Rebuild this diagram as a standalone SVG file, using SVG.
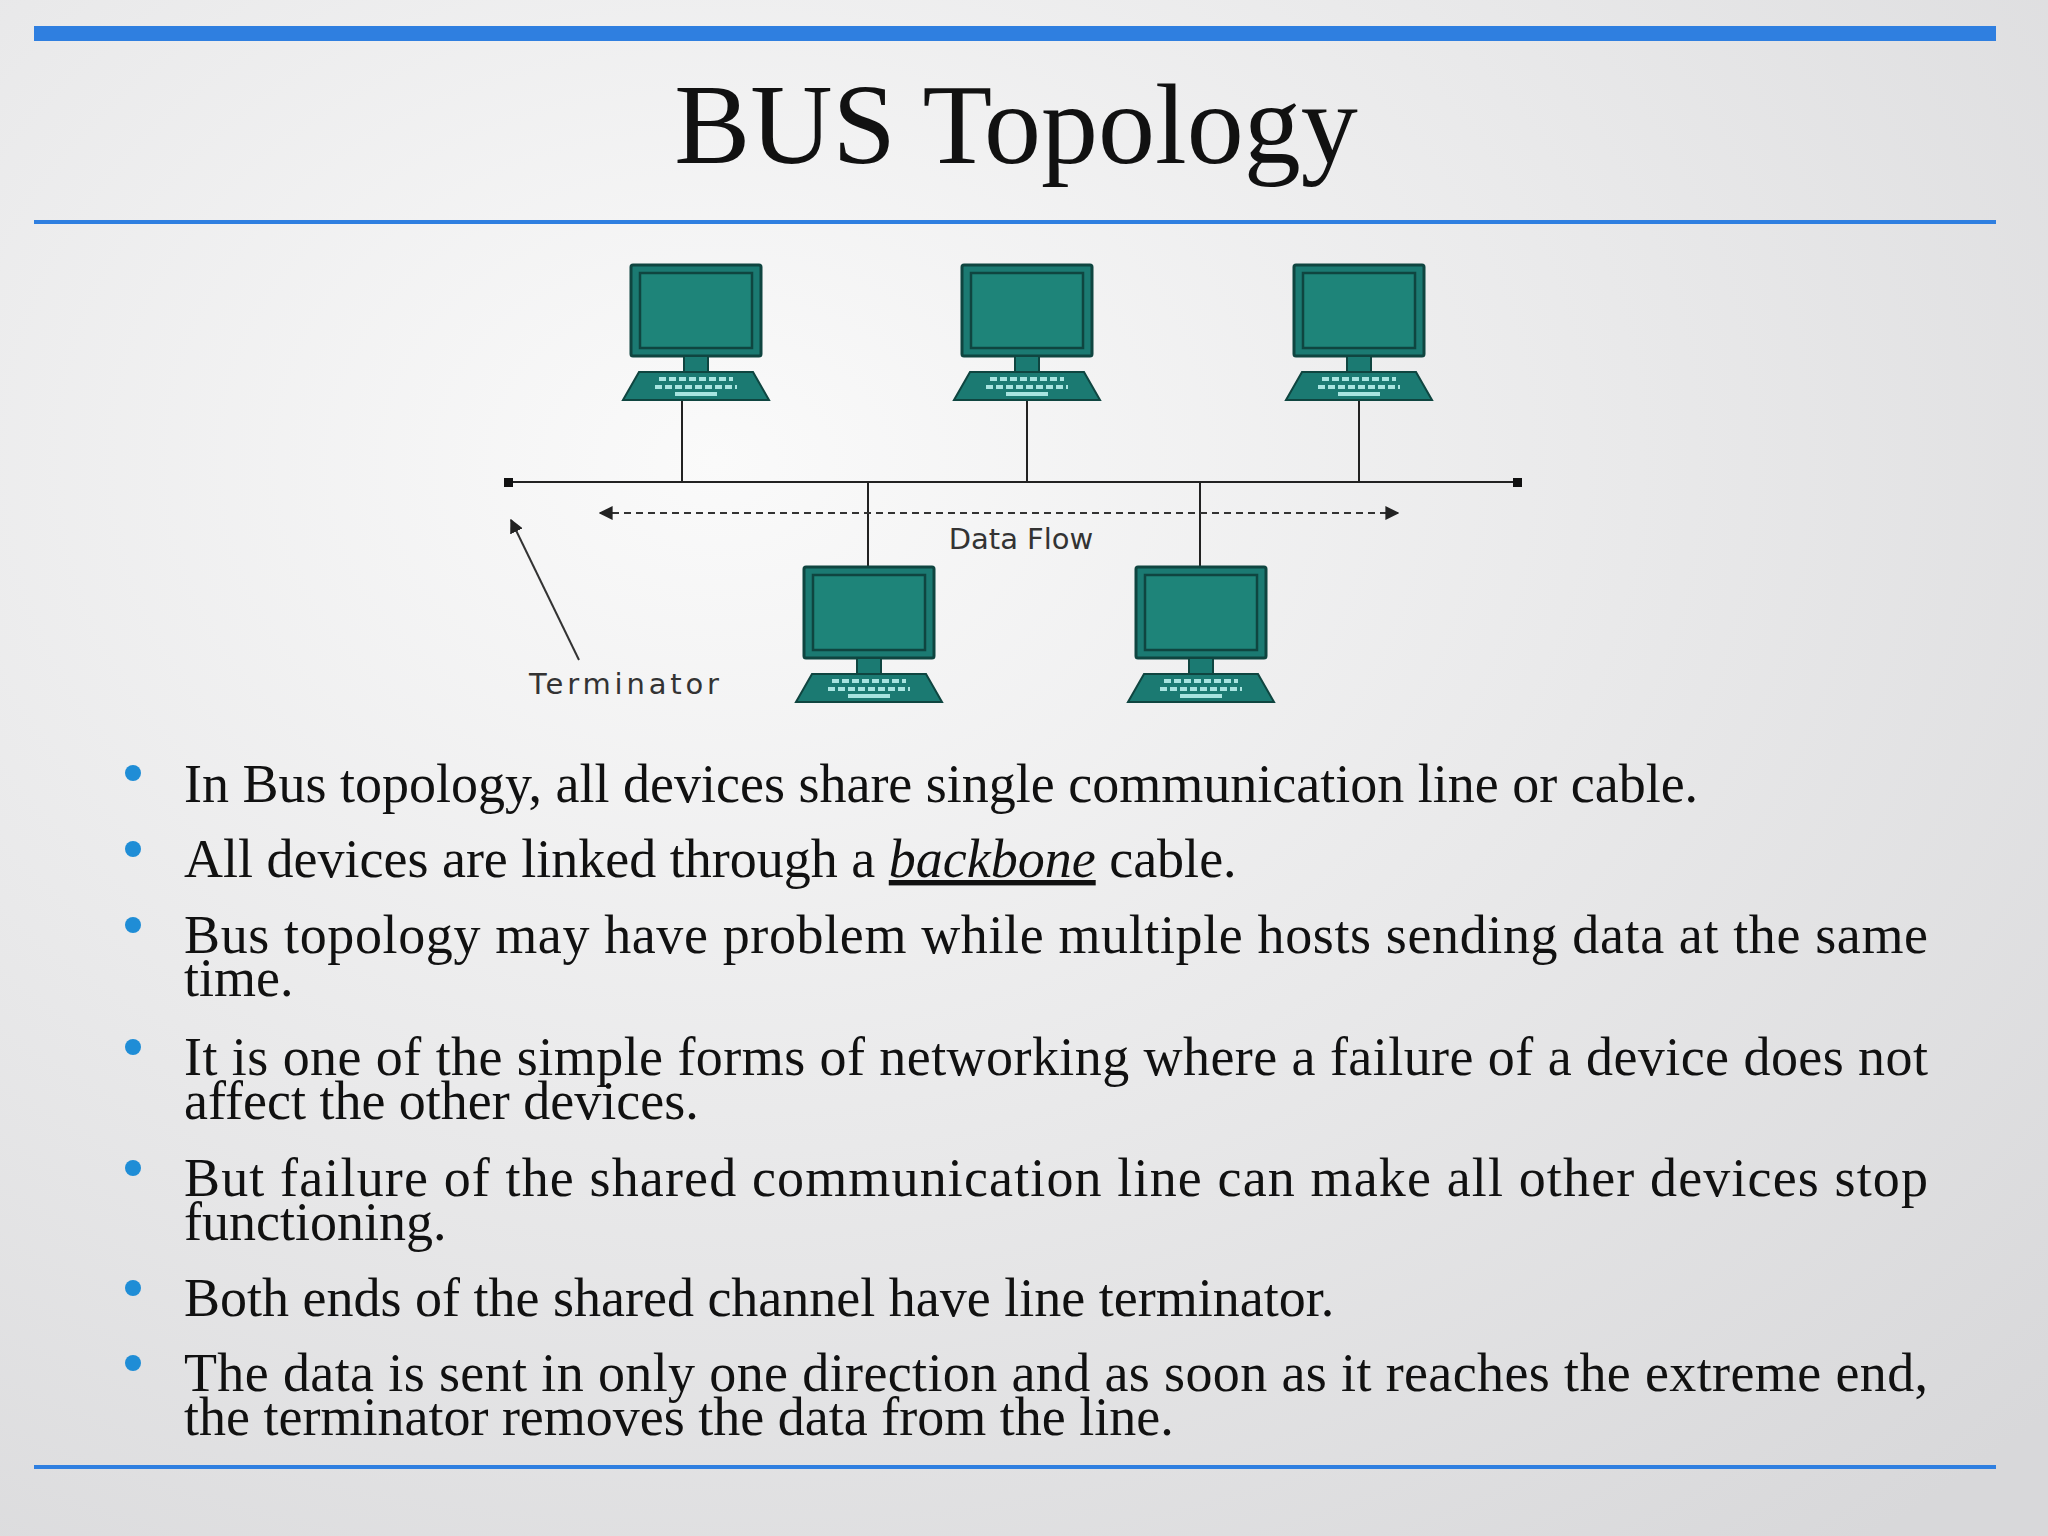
<svg xmlns="http://www.w3.org/2000/svg" width="2048" height="1536" viewBox="0 0 2048 1536">
<defs>
<radialGradient id="bg" cx="0.35" cy="0.3" r="0.9"><stop offset="0" stop-color="#fafafa"/><stop offset="1" stop-color="#d8d8da"/></radialGradient>
<g id="pc">
<rect x="0" y="0" width="130" height="91" rx="2" fill="#1b7a72" stroke="#0f4540" stroke-width="3"/>
<rect x="9" y="8" width="112" height="75" fill="#1e8479" stroke="#0f4540" stroke-width="2.5"/>
<rect x="53" y="91" width="24" height="16" fill="#1b7a72" stroke="#0f4540" stroke-width="2"/>
<polygon points="8,107 122,107 138,135 -8,135" fill="#1b7a72" stroke="#0f4540" stroke-width="2"/>
<g stroke="#a8e4e0" stroke-width="4" stroke-dasharray="7,3"><line x1="28" y1="114" x2="102" y2="114"/><line x1="24" y1="122" x2="106" y2="122"/></g>
<rect x="44" y="127" width="42" height="4" fill="#a8e4e0"/>
</g>
<marker id="ah" viewBox="0 0 10 10" refX="9" refY="5" markerWidth="7" markerHeight="7" orient="auto-start-reverse"><path d="M0,0 L10,5 L0,10 z" fill="#222"/></marker>
<style>
.c{stroke:#222;stroke-width:2;fill:none}
.t{font-family:"Liberation Serif",serif;font-size:54px;fill:#111}
.s{font-family:"DejaVu Sans",sans-serif;font-size:29px;fill:#333}
</style>
</defs>
<rect width="2048" height="1536" fill="url(#bg)"/>
<rect x="34" y="26" width="1962" height="15" fill="#2f7fe0"/>
<line x1="34" y1="222" x2="1996" y2="222" stroke="#2f7fe0" stroke-width="4"/>
<line x1="34" y1="1467" x2="1996" y2="1467" stroke="#2f7fe0" stroke-width="4"/>
<text x="1016" y="163" text-anchor="middle" font-family="Liberation Serif,serif" font-size="114" fill="#111">BUS Topology</text>
<g id="connectors">
<line class="c" x1="508" y1="482" x2="1518" y2="482"/>
<rect x="504" y="478" width="9" height="9" fill="#111"/>
<rect x="1513" y="478" width="9" height="9" fill="#111"/>
<line class="c" x1="682" y1="400" x2="682" y2="482"/>
<line class="c" x1="1027" y1="400" x2="1027" y2="482"/>
<line class="c" x1="1359" y1="400" x2="1359" y2="482"/>
<line class="c" x1="868" y1="482" x2="868" y2="567"/>
<line class="c" x1="1200" y1="482" x2="1200" y2="567"/>
<line x1="600" y1="513" x2="1398" y2="513" stroke="#333" stroke-width="2" stroke-dasharray="7,5" marker-start="url(#ah)" marker-end="url(#ah)"/>
<line x1="579" y1="660" x2="511" y2="520" stroke="#333" stroke-width="2" marker-end="url(#ah)"/>
</g>
<g id="pc1"><use href="#pc" x="631" y="265"/></g>
<g id="pc2"><use href="#pc" x="962" y="265"/></g>
<g id="pc3"><use href="#pc" x="1294" y="265"/></g>
<g id="pc4"><use href="#pc" x="804" y="567"/></g>
<g id="pc5"><use href="#pc" x="1136" y="567"/></g>
<text class="s" x="1021" y="549" text-anchor="middle">Data Flow</text>
<text class="s" x="529" y="694" textLength="190" lengthAdjust="spacing">Terminator</text>
<g fill="#1f8dd6"><circle cx="133" cy="773" r="8"/><circle cx="133" cy="849" r="8"/><circle cx="133" cy="925" r="8"/><circle cx="133" cy="1047" r="8"/><circle cx="133" cy="1168" r="8"/><circle cx="133" cy="1288" r="8"/><circle cx="133" cy="1363" r="8"/></g>
<text class="t" x="184" y="802">In Bus topology, all devices share single communication line or cable.</text>
<text class="t" x="184" y="877">All devices are linked through a <tspan font-style="italic" text-decoration="underline">backbone</tspan> cable.</text>
<text class="t" x="184" y="953" textLength="1744" lengthAdjust="spacing">Bus topology may have problem while multiple hosts sending data at the same</text>
<text class="t" x="184" y="996">time.</text>
<text class="t" x="184" y="1075" textLength="1744" lengthAdjust="spacing">It is one of the simple forms of networking where a failure of a device does not</text>
<text class="t" x="184" y="1119">affect the other devices.</text>
<text class="t" x="184" y="1196" textLength="1744" lengthAdjust="spacing">But failure of the shared communication line can make all other devices stop</text>
<text class="t" x="184" y="1240">functioning.</text>
<text class="t" x="184" y="1316">Both ends of the shared channel have line terminator.</text>
<text class="t" x="184" y="1391" textLength="1744" lengthAdjust="spacing">The data is sent in only one direction and as soon as it reaches the extreme end,</text>
<text class="t" x="184" y="1435">the terminator removes the data from the line.</text>
</svg>
